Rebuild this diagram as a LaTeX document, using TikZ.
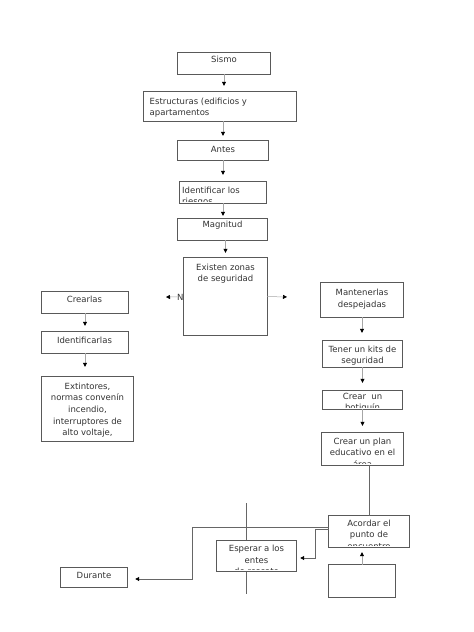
\documentclass[tikz,border=0pt]{standalone}
\usepackage{fontspec}
\setmainfont{DejaVu Sans}
\usetikzlibrary{arrows.meta,fit}
\tikzset{
  boxst/.style={fill=white, draw=none, inner sep=0pt},
  bline/.style={draw=black!65, line width=0.7pt},
  txt/.style={anchor=north, inner sep=0pt, align=center, font=\fontsize{8.5}{11.6}\selectfont, text=black!80},
  tarrow/.style={draw=black!35, line width=0.5pt, -{Triangle[width=4pt,length=4pt,color=black]}},
  dark/.style={draw=black!60, line width=0.9pt},
  darkarrow/.style={dark, -{Triangle[width=4pt,length=4pt,color=black]}}
}
\newcommand\tb[9]{%
  \coordinate (#1-a) at (#2,#3);
  \coordinate (#1-b) at (#4,#5);
  \node[boxst, fit=(#1-a)(#1-b)] (#1) {};
  \begin{scope}
    \clip ([yshift=1.5pt]#1.south west) rectangle (#1.north east);
    \node[txt,#6] (#1-t) at (#7,#8-7) {\rule{0pt}{7pt}#9};
  \end{scope}
  \draw[bline] (#1.south west) rectangle (#1.north east);
}
\begin{document}
\begin{tikzpicture}[x=1pt,y=-1pt]
\useasboundingbox (0,0) rectangle (474,632);
% free vertical line behind "Esperar"
\coordinate (vt) at (246,503);
\coordinate (vb) at (246,594);
\draw[dark] (vt) -- (vb);
% partly hidden label
\node[txt, anchor=base west] (no) at (177,300) {No};

\tb{sismo}{178}{53}{270}{74}{}{224}{62.5}{Sismo}
\tb{estr}{144}{92}{296}{121}{anchor=north west,align=left}{149.5}{104}{Estructuras (edificios y\\apartamentos}
\tb{antes}{178}{141}{268}{160}{}{223}{152}{Antes}
\tb{ident}{180}{182}{266}{203}{anchor=north west,align=left}{182}{193}{Identificar los\\riesgos}
\tb{magn}{178}{219}{267}{240}{}{222.5}{227.5}{Magnitud}
\tb{exist}{184}{258}{267}{335}{}{225.5}{270}{Existen zonas\\de seguridad}
\tb{crear}{42}{292}{128}{313}{}{84.5}{302}{Crearlas}
\tb{identc}{42}{332}{128}{353}{}{84.5}{343}{Identificarlas}
\tb{ext}{42}{377}{133}{441}{}{87.5}{389}{Extintores,\\normas convenín\\incendio,\\interruptores de\\alto voltaje,\\señalización}
\tb{mant}{321}{283}{403}{317}{}{362}{295.5}{Mantenerlas\\despejadas}
\tb{tener}{323}{341}{402}{367}{}{362.5}{352}{Tener un kits de\\seguridad}
\tb{crearun}{323}{391}{402}{409}{}{362.5}{399}{Crear~~un\\botiquín}
\tb{plan}{322}{433}{403}{465}{}{362.5}{444}{Crear un plan\\educativo en el\\área}
\tb{acordar}{329}{516}{409}{547}{}{369}{526}{Acordar el\\punto de\\encuentro}
\tb{empty}{329}{565}{395}{597}{}{362}{580}{}
\tb{esperar}{217}{541}{296}{571}{}{256.5}{551.5}{Esperar a los\\entes\\de rescate}
\tb{durante}{61}{568}{127}{587}{}{94}{578}{Durante}

% thin arrows
\draw[tarrow, shorten >=6pt] (sismo.south) -- (sismo.south |- estr.north);
\draw[tarrow, shorten >=5pt] (antes.north |- estr.south) -- (antes.north);
\draw[tarrow, shorten >=7pt] (antes.south) -- (antes.south |- ident.north);
\draw[tarrow, shorten >=3pt] (ident.south) -- (ident.south |- magn.north);
\draw[tarrow, shorten >=5pt] (exist.north |- magn.south) -- (exist.north);
\draw[tarrow, shorten >=6pt] (crear.south) -- (crear.south |- identc.north);
\draw[tarrow, shorten >=10pt] (identc.south) -- (identc.south |- ext.north);
\draw[tarrow, shorten >=8pt] (mant.south) -- (mant.south |- tener.north);
\draw[tarrow, shorten >=8pt] (tener.south) -- (tener.south |- crearun.north);
\draw[tarrow, shorten >=7pt] (crearun.south) -- (crearun.south |- plan.north);
\coordinate (siend) at (287,297);
\draw[tarrow] (exist.east) -- (siend);
\coordinate (noend) at (166,297);
\draw[tarrow] (no.west) -- (noend);
\draw[tarrow, shorten >=5pt] (empty.north) -- (empty.north |- acordar.south);

% dark connectors
\draw[dark] (acordar.north) -- (acordar.north |- plan.south);
\coordinate (j1) at (192,527);
\draw[darkarrow] ([yshift=4.5pt]acordar.west) -- (j1) |- ([xshift=8pt,yshift=-1.5pt]durante.east);
\coordinate (j2) at (315,529);
\draw[darkarrow] ([yshift=2.5pt]acordar.west) -- (j2) |- ([xshift=4pt,yshift=-2pt]esperar.east);
\end{tikzpicture}
\end{document}
